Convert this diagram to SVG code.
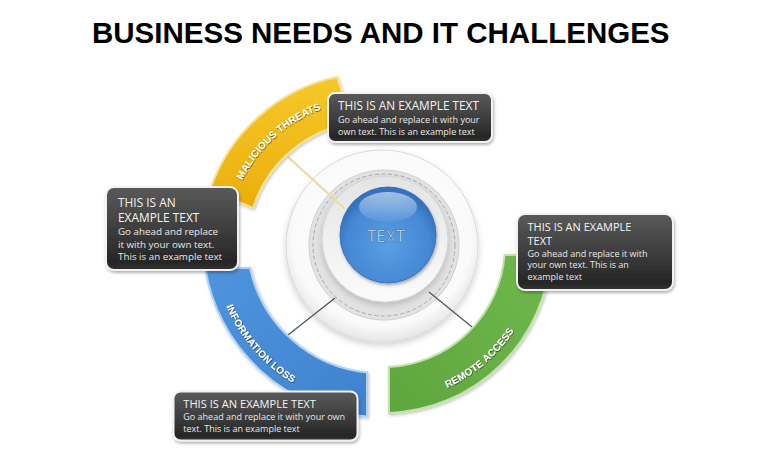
<svg xmlns="http://www.w3.org/2000/svg" width="760" height="475" viewBox="0 0 760 475">
<defs>
<style>
.title{font-family:"Liberation Sans",Arial,sans-serif;font-weight:bold;font-size:29.5px;fill:#000}
.bt{font-family:"Open Sans","Noto Sans",sans-serif;fill:#f4f4f4}
.bb{font-family:"Open Sans","Noto Sans",sans-serif;fill:#e8e8e8}
.box{stroke:#f2f2f2;stroke-width:2;fill:url(#gBox);filter:url(#fShadow)}
.band{stroke-width:2;filter:url(#fBand)}
.lbl{font-family:"Liberation Sans",Arial,sans-serif;font-weight:bold;font-size:10px;fill:#fff;letter-spacing:0.2px;filter:url(#fTxt)}
</style>
<linearGradient id="gBox" x1="0" y1="0" x2="0" y2="1">
<stop offset="0" stop-color="#5a5a5a"/>
<stop offset="0.55" stop-color="#3b3b3b"/>
<stop offset="0.9" stop-color="#262626"/>
<stop offset="1" stop-color="#333"/>
</linearGradient>
<linearGradient id="gYel" x1="0" y1="0" x2="0" y2="1">
<stop offset="0" stop-color="#f6c82a"/>
<stop offset="1" stop-color="#ebae0c"/>
</linearGradient>
<linearGradient id="gBlu" x1="0" y1="0" x2="1" y2="1">
<stop offset="0" stop-color="#4f94dc"/>
<stop offset="1" stop-color="#3f82cf"/>
</linearGradient>
<linearGradient id="gGrn" x1="1" y1="0" x2="0" y2="1">
<stop offset="0" stop-color="#70b84c"/>
<stop offset="1" stop-color="#5fa53f"/>
</linearGradient>
<radialGradient id="gBall" cx="0.5" cy="0.6" r="0.55">
<stop offset="0" stop-color="#5b9fe4"/>
<stop offset="0.8" stop-color="#4487d3"/>
<stop offset="1" stop-color="#3572bd"/>
</radialGradient>
<linearGradient id="gHi" x1="0" y1="0" x2="0" y2="1">
<stop offset="0" stop-color="#ffffff" stop-opacity="0.55"/>
<stop offset="1" stop-color="#ffffff" stop-opacity="0.05"/>
</linearGradient>
<radialGradient id="gOuter" cx="0.5" cy="0.45" r="0.55">
<stop offset="0" stop-color="#ffffff"/>
<stop offset="0.85" stop-color="#fafafa"/>
<stop offset="1" stop-color="#e6e6e6"/>
</radialGradient>
<linearGradient id="gInner" x1="0" y1="0" x2="0" y2="1">
<stop offset="0" stop-color="#e4e4e4"/>
<stop offset="1" stop-color="#fbfbfb"/>
</linearGradient>
<filter id="fShadow" x="-10%" y="-10%" width="125%" height="135%">
<feDropShadow dx="1" dy="2" stdDeviation="1.5" flood-color="#000" flood-opacity="0.3"/>
</filter>
<filter id="fBand" x="-10%" y="-10%" width="125%" height="125%">
<feDropShadow dx="1" dy="1.5" stdDeviation="1.5" flood-color="#000" flood-opacity="0.25"/>
</filter>
<filter id="fTxt" x="-10%" y="-30%" width="125%" height="170%">
<feDropShadow dx="0.6" dy="0.8" stdDeviation="0.5" flood-color="#000" flood-opacity="0.6"/>
</filter>
<filter id="fSoft" x="-20%" y="-20%" width="140%" height="140%">
<feDropShadow dx="0" dy="3" stdDeviation="3" flood-color="#000" flood-opacity="0.18"/>
</filter>
<path id="pYel" d="M 232.6 205 A 145 145 0 0 1 346.8 102.2"/>
<path id="pBlu" d="M 214.1 263.3 A 167.5 167.5 0 0 0 333.8 401"/>
<path id="pGrn" d="M 404.8 400 A 156.5 156.5 0 0 0 532.7 290.8"/>
</defs>

<rect width="760" height="475" fill="#ffffff"/>

<g id="title">
<text class="title" x="92" y="43">BUSINESS NEEDS AND IT CHALLENGES</text>
</g>

<g id="center">
<circle cx="382" cy="246" r="96" fill="url(#gOuter)" stroke="#d9d9d9" stroke-width="1" filter="url(#fSoft)"/>
<circle cx="384" cy="245" r="75" fill="#e2e2e2" stroke="#d0d0d0" stroke-width="1"/>
<circle cx="384" cy="245" r="71" fill="none" stroke="#a9a9a9" stroke-width="1" stroke-dasharray="4 2.5"/>
<circle cx="385" cy="239" r="63" fill="url(#gInner)" stroke="#d4d4d4" stroke-width="1" filter="url(#fSoft)"/>
<circle cx="388" cy="235" r="48" fill="url(#gBall)" stroke="#3a74bb" stroke-width="1" filter="url(#fShadow)"/>
<ellipse cx="388" cy="207" rx="29" ry="15" fill="url(#gHi)"/>
<text x="386" y="242" text-anchor="middle" font-family="Open Sans, Noto Sans, sans-serif" font-size="17" fill="#eef4fb" stroke="#2f5f96" stroke-width="0.5">TEXT</text>
</g>

<g id="connectors">
<line x1="288" y1="157" x2="345" y2="209" stroke="#ecdca0" stroke-width="2.2"/>
<line x1="288" y1="335" x2="335" y2="298" stroke="#45555a" stroke-width="1.3"/>
<line x1="429" y1="292" x2="472" y2="327" stroke="#4d5d50" stroke-width="1.3"/>
</g>

<g id="band-malicious-threats">
<path class="band" d="M 210 190 A 172 172 0 0 1 337 77 L 352 123 A 124 124 0 0 0 253 208 Z" fill="url(#gYel)" stroke="#f8e28e"/>
<text class="lbl"><textPath href="#pYel" startOffset="50%" text-anchor="middle">MALICIOUS THREATS</textPath></text>
</g>

<g id="band-information-loss">
<path class="band" d="M 205.2 268 L 250 268 A 133 133 0 0 0 367 372.4 L 367 416.5 A 177 177 0 0 1 205.2 268 Z" fill="url(#gBlu)" stroke="#b0d2f2"/>
<text class="lbl"><textPath href="#pBlu" startOffset="50%" text-anchor="middle">INFORMATION LOSS</textPath></text>
</g>

<g id="band-remote-access">
<path class="band" d="M 504.6 255 L 550.7 255 A 168 168 0 0 1 389 412.9 L 389 366.9 A 122 122 0 0 0 504.6 255 Z" fill="url(#gGrn)" stroke="#bfe3a8"/>
<text class="lbl"><textPath href="#pGrn" startOffset="50%" text-anchor="middle">REMOTE ACCESS</textPath></text>
</g>

<g id="box-top">
<rect class="box" x="328" y="93" width="164" height="49" rx="7"/>
<text class="bt" x="338" y="110.3" font-size="11.8">THIS IS AN EXAMPLE TEXT</text>
<text class="bb" font-size="9">
<tspan x="338" y="123">Go ahead and replace it with your</tspan>
<tspan x="338" y="134.5">own text. This is an example text</tspan>
</text>
</g>

<g id="box-left">
<rect class="box" x="106" y="187" width="132" height="83" rx="8"/>
<text class="bt" font-size="11.9">
<tspan x="118" y="206.6">THIS IS AN</tspan>
<tspan x="118" y="222.3">EXAMPLE TEXT</tspan>
</text>
<text class="bb" font-size="9.8">
<tspan x="118" y="235.3">Go ahead and replace</tspan>
<tspan x="118" y="247.7">it with your own text.</tspan>
<tspan x="118" y="260">This is an example text</tspan>
</text>
</g>

<g id="box-right">
<rect class="box" x="517" y="214" width="156" height="76" rx="8"/>
<text class="bt" font-size="11">
<tspan x="527.5" y="230.5">THIS IS AN EXAMPLE</tspan>
<tspan x="527.5" y="244.8">TEXT</tspan>
</text>
<text class="bb" font-size="9">
<tspan x="527.5" y="256.8">Go ahead and replace it with</tspan>
<tspan x="527.5" y="268.4">your own text. This is an</tspan>
<tspan x="527.5" y="280">example text</tspan>
</text>
</g>

<g id="box-bottom">
<rect class="box" x="173.5" y="391.5" width="184" height="49" rx="7"/>
<text class="bt" x="183.3" y="408.2" font-size="11.1">THIS IS AN EXAMPLE TEXT</text>
<text class="bb" font-size="9">
<tspan x="183.3" y="419.7">Go ahead and replace it with your own</tspan>
<tspan x="183.3" y="431.6">text. This is an example text</tspan>
</text>
</g>
</svg>
